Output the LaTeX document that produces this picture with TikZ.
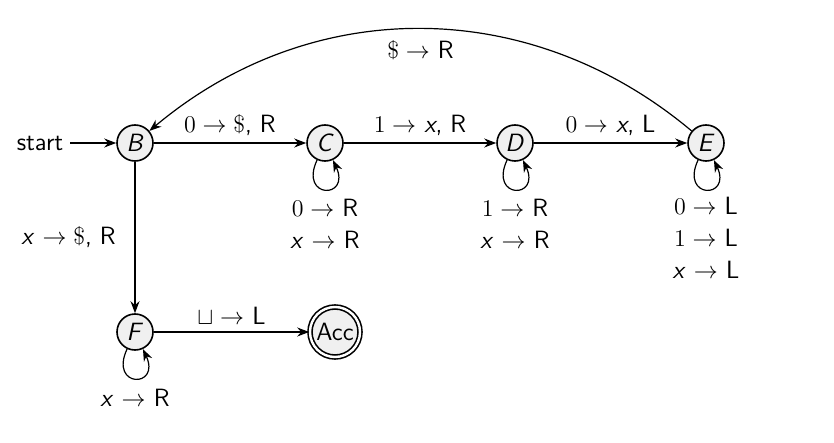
\documentclass[tikz,border=0pt]{standalone}
\usetikzlibrary{arrows.meta}
\begin{document}
\begin{tikzpicture}[x=0.5pt,y=-0.5pt,
  every node/.style={font=\fontsize{12.5}{16}\selectfont\sffamily},
  state/.style={circle,draw,thick,fill=gray!12,minimum size=18pt,inner sep=0pt},
  acc/.style={state,double,double distance=1.2pt,minimum size=25pt},
  tr/.style={-{Stealth[length=6pt]},semithick},
  lp/.style={tr,out=-115,in=-65,looseness=7}]
\useasboundingbox (0,0) rectangle (834,443);
\node[state] (B) at (135,143) {\textit{B}};
\node[state] (C) at (325,143) {\textit{C}};
\node[state] (D) at (515,143) {\textit{D}};
\node[state] (E) at (706,143) {\textit{E}};
\node[state] (F) at (135,332) {\textit{F}};
\node[acc] (A) at (335,332) {Acc};
\node (s) at (40,143) {start};
\draw[tr] (s) -- (B);
\draw[tr] (B) -- node[above] {$0\rightarrow\$$, R} (C);
\draw[tr] (C) -- node[above] {$1\rightarrow$ \textit{x}, R} (D);
\draw[tr] (D) -- node[above] {$0\rightarrow$ \textit{x}, L} (E);
\draw[tr] (E) to[bend right=40] node[below=2pt] {$\$\rightarrow$ R} (B);
\draw[tr] (B) -- node[left=6pt] {\textit{x} $\rightarrow\$$, R} (F);
\draw[tr] (F) -- node[above] {$\sqcup\rightarrow$ L} (A);
\draw[lp] (C) to (C);
\draw[lp] (D) to (D);
\draw[lp] (E) to (E);
\draw[lp] (F) to (F);
\node[align=center] (lc) at (325,224) {$0\rightarrow$ R\\\textit{x} $\rightarrow$ R};
\node[align=center] (ld) at (515,224) {$1\rightarrow$ R\\\textit{x} $\rightarrow$ R};
\node[align=center] (le) at (706,238) {$0\rightarrow$ L\\$1\rightarrow$ L\\\textit{x} $\rightarrow$ L};
\node (lf) at (135,398) {\textit{x} $\rightarrow$ R};
\end{tikzpicture}
\end{document}
